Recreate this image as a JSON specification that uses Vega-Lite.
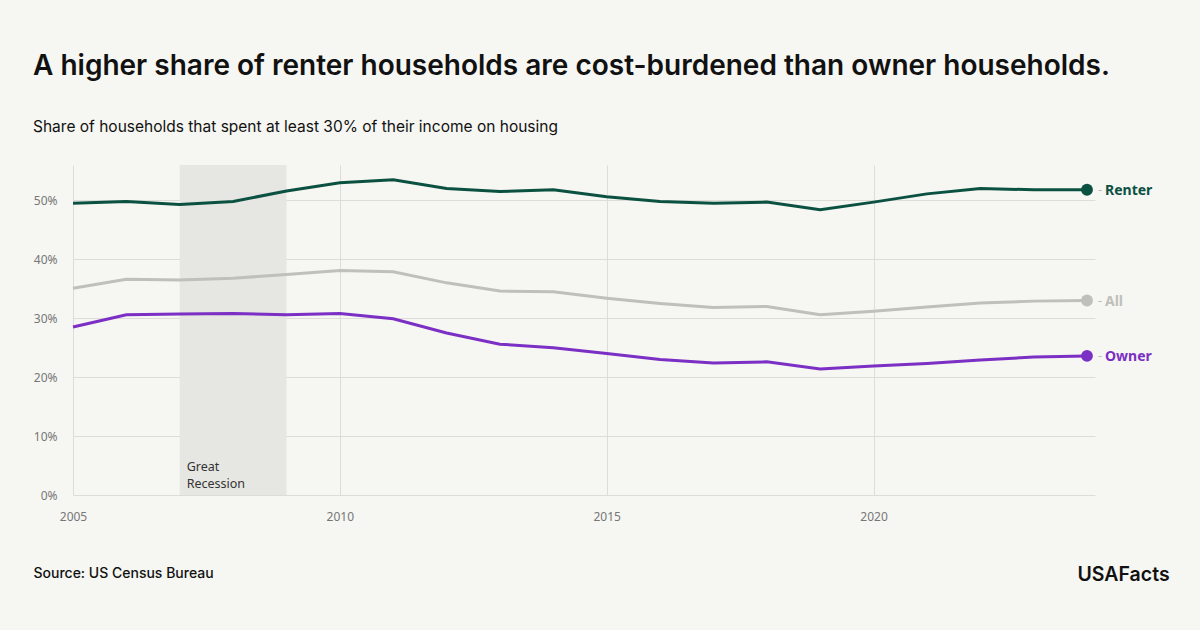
{
  "$schema": "https://vega.github.io/schema/vega-lite/v6.json",
  "width": 1022,
  "height": 330,
  "autosize": {"type": "none"},
  "padding": {"left": 73, "top": 165, "right": 105, "bottom": 135},
  "background": "#f6f6f2",
  "title": {
    "text": "A higher share of renter households are cost-burdened than owner households.",
    "subtitle": "Share of households that spent at least 30% of their income on housing",
    "anchor": "start",
    "frame": "group",
    "dx": -40,
    "offset": 30,
    "font": "Inter",
    "fontSize": 28,
    "fontWeight": 600,
    "color": "#111111",
    "subtitleFont": "Inter",
    "subtitleFontSize": 15.5,
    "subtitleColor": "#111111",
    "subtitlePadding": 39
  },
  "config": {
    "view": {"stroke": null},
    "axis": {"labelFont": "Noto Sans", "labelFontSize": 12, "labelColor": "#777777", "gridColor": "#dcdcd8", "gridWidth": 1}
  },
  "datasets": {
    "main": [
      {"year": 2005, "group": "Renter", "value": 49.5},
      {"year": 2006, "group": "Renter", "value": 49.8},
      {"year": 2007, "group": "Renter", "value": 49.3},
      {"year": 2008, "group": "Renter", "value": 49.8},
      {"year": 2009, "group": "Renter", "value": 51.6},
      {"year": 2010, "group": "Renter", "value": 53.0},
      {"year": 2011, "group": "Renter", "value": 53.5},
      {"year": 2012, "group": "Renter", "value": 52.0},
      {"year": 2013, "group": "Renter", "value": 51.5},
      {"year": 2014, "group": "Renter", "value": 51.8},
      {"year": 2015, "group": "Renter", "value": 50.6},
      {"year": 2016, "group": "Renter", "value": 49.8},
      {"year": 2017, "group": "Renter", "value": 49.5},
      {"year": 2018, "group": "Renter", "value": 49.7},
      {"year": 2019, "group": "Renter", "value": 48.4},
      {"year": 2020, "group": "Renter", "value": 49.7},
      {"year": 2021, "group": "Renter", "value": 51.1},
      {"year": 2022, "group": "Renter", "value": 52.0},
      {"year": 2023, "group": "Renter", "value": 51.8},
      {"year": 2024, "group": "Renter", "value": 51.8},
      {"year": 2005, "group": "All", "value": 35.1},
      {"year": 2006, "group": "All", "value": 36.6},
      {"year": 2007, "group": "All", "value": 36.5},
      {"year": 2008, "group": "All", "value": 36.8},
      {"year": 2009, "group": "All", "value": 37.4},
      {"year": 2010, "group": "All", "value": 38.1},
      {"year": 2011, "group": "All", "value": 37.9},
      {"year": 2012, "group": "All", "value": 36.0},
      {"year": 2013, "group": "All", "value": 34.6},
      {"year": 2014, "group": "All", "value": 34.5},
      {"year": 2015, "group": "All", "value": 33.4},
      {"year": 2016, "group": "All", "value": 32.5},
      {"year": 2017, "group": "All", "value": 31.8},
      {"year": 2018, "group": "All", "value": 32.0},
      {"year": 2019, "group": "All", "value": 30.6},
      {"year": 2020, "group": "All", "value": 31.2},
      {"year": 2021, "group": "All", "value": 31.9},
      {"year": 2022, "group": "All", "value": 32.6},
      {"year": 2023, "group": "All", "value": 32.9},
      {"year": 2024, "group": "All", "value": 33.0},
      {"year": 2005, "group": "Owner", "value": 28.5},
      {"year": 2006, "group": "Owner", "value": 30.6},
      {"year": 2007, "group": "Owner", "value": 30.7},
      {"year": 2008, "group": "Owner", "value": 30.8},
      {"year": 2009, "group": "Owner", "value": 30.6},
      {"year": 2010, "group": "Owner", "value": 30.8},
      {"year": 2011, "group": "Owner", "value": 29.9},
      {"year": 2012, "group": "Owner", "value": 27.5},
      {"year": 2013, "group": "Owner", "value": 25.6},
      {"year": 2014, "group": "Owner", "value": 25.0},
      {"year": 2015, "group": "Owner", "value": 24.0},
      {"year": 2016, "group": "Owner", "value": 23.0},
      {"year": 2017, "group": "Owner", "value": 22.4},
      {"year": 2018, "group": "Owner", "value": 22.6},
      {"year": 2019, "group": "Owner", "value": 21.4},
      {"year": 2020, "group": "Owner", "value": 21.9},
      {"year": 2021, "group": "Owner", "value": 22.3},
      {"year": 2022, "group": "Owner", "value": 22.9},
      {"year": 2023, "group": "Owner", "value": 23.4},
      {"year": 2024, "group": "Owner", "value": 23.6}
    ],
    "band": [{"start": 2007, "end": 2009, "label": ["Great", "Recession"], "base": 0}]
  },
  "resolve": {"axis": {"y": "independent"}},
  "layer": [
    {
      "data": {"name": "band"},
      "mark": {"type": "rect", "color": "#e6e6e2"},
      "encoding": {
        "x": {
          "field": "start", "type": "quantitative",
          "scale": {"domain": [2005, 2024.15], "nice": false, "zero": false},
          "axis": {
            "values": [2005, 2010, 2015, 2020], "format": "d", "grid": true, "domain": false, "ticks": false,
            "labelPadding": 16, "labelFlush": false,
            "title": "Source: US Census Bureau", "titleAnchor": "start", "titleX": -40, "titleY": 82,
            "titleBaseline": "alphabetic", "titleFont": "Inter", "titleFontSize": 14, "titleFontWeight": 500, "titleColor": "#111111"
          }
        },
        "x2": {"field": "end"}
      }
    },
    {
      "data": {"name": "main"},
      "mark": {"type": "line", "strokeWidth": 3},
      "encoding": {
        "x": {"field": "year", "type": "quantitative"},
        "y": {
          "field": "value", "type": "quantitative",
          "scale": {"domain": [0, 56], "nice": false},
          "axis": {"values": [0, 10, 20, 30, 40, 50], "labelExpr": "datum.value + '%'", "grid": true, "domain": false, "ticks": false, "labelPadding": 16, "title": null}
        },
        "color": {
          "field": "group", "type": "nominal",
          "scale": {"domain": ["Renter", "All", "Owner"], "range": ["#0b5141", "#bfbfbb", "#7b2fc4"]},
          "legend": null
        },
        "order": {"field": "year"}
      }
    },
    {
      "data": {"name": "band"},
      "mark": {"type": "text", "align": "left", "baseline": "alphabetic", "dx": 7, "dy": -24, "font": "Noto Sans", "fontSize": 12.5, "color": "#333333", "lineHeight": 17},
      "encoding": {
        "x": {"field": "start", "type": "quantitative"},
        "y": {"field": "base", "type": "quantitative", "axis": null},
        "text": {"field": "label"}
      }
    },
    {
      "data": {"name": "main"},
      "transform": [{"filter": "datum.year == 2024"}],
      "mark": {"type": "point", "filled": true, "size": 140, "opacity": 1},
      "encoding": {
        "x": {"field": "year", "type": "quantitative"},
        "y": {"field": "value", "type": "quantitative", "axis": null},
        "color": {"field": "group", "type": "nominal", "legend": null}
      }
    },
    {
      "data": {"name": "main"},
      "transform": [{"filter": "datum.year == 2024"}],
      "mark": {"type": "text", "text": "-", "align": "left", "baseline": "middle", "dx": 11, "font": "Noto Sans", "fontSize": 13, "color": "#bbbbbb"},
      "encoding": {
        "x": {"field": "year", "type": "quantitative"},
        "y": {"field": "value", "type": "quantitative", "axis": null}
      }
    },
    {
      "data": {"name": "main"},
      "transform": [{"filter": "datum.year == 2024"}],
      "mark": {"type": "text", "align": "left", "baseline": "middle", "dx": 18, "dy": 1, "font": "Noto Sans", "fontSize": 14, "fontWeight": "bold"},
      "encoding": {
        "x": {"field": "year", "type": "quantitative"},
        "y": {
          "field": "value", "type": "quantitative",
          "axis": {
            "orient": "right", "labels": false, "ticks": false, "domain": false, "grid": false,
            "title": "USAFacts", "titleAngle": 0, "titleAlign": "left", "titleBaseline": "alphabetic",
            "titleX": -18, "titleY": 415, "titleFont": "Inter", "titleFontSize": 19.5, "titleFontWeight": 600, "titleColor": "#111111"
          }
        },
        "text": {"field": "group"},
        "color": {"field": "group", "type": "nominal", "legend": null}
      }
    }
  ]
}
